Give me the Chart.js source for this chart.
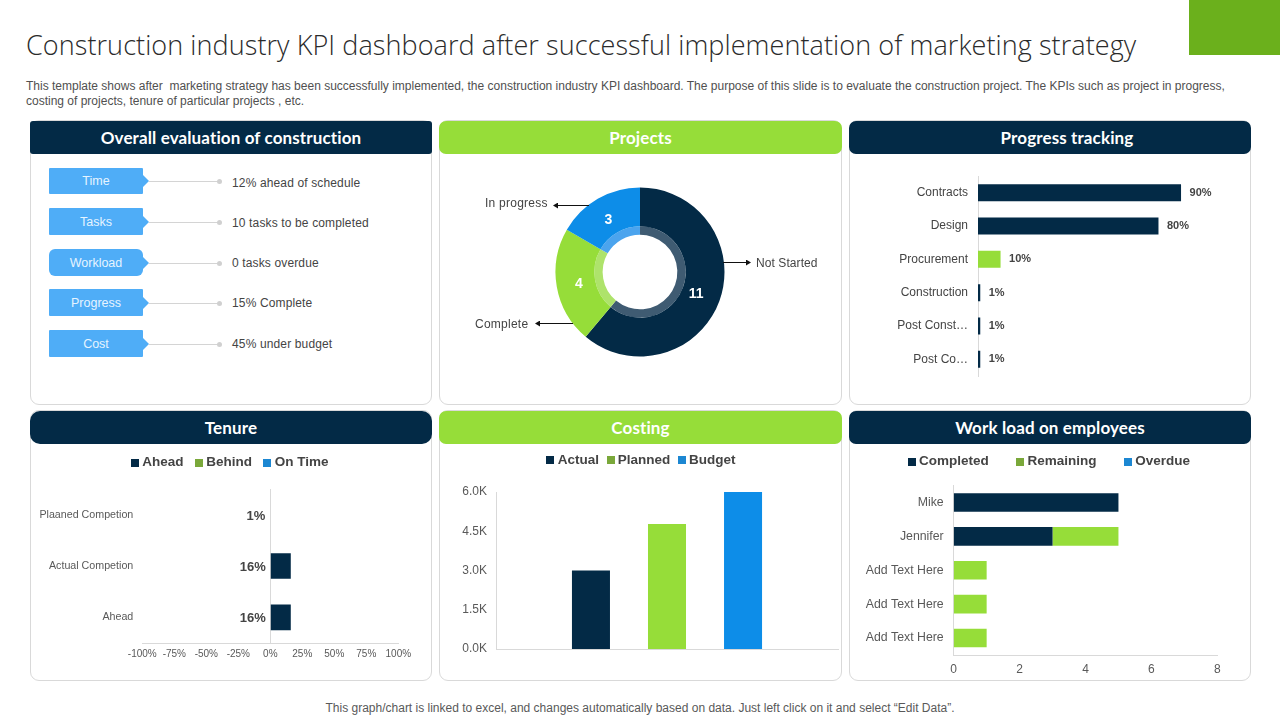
<!DOCTYPE html>
<html>
<head>
<meta charset="utf-8">
<title>Construction industry KPI dashboard</title>
<script src="https://cdn.jsdelivr.net/npm/chart.js@4"></script>
<style>
  html, body { margin: 0; padding: 0; background: #fff; }
  body { width: 1280px; height: 720px; position: relative; overflow: hidden; font-family: "Liberation Sans", Arial, sans-serif; color: #444; }
  .abs { position: absolute; white-space: nowrap; }
  #corner { left: 1189px; top: 0; width: 91px; height: 55px; background: #6bb01c; }
  #title { left: 26px; top: 26px; font: 300 27px/38px "Open Sans", sans-serif; color: #2b2b2b; letter-spacing: 0.08px; }
  #desc { left: 26px; top: 79px; font-size: 12px; line-height: 14.5px; color: #505050; }
  #foot { left: 0; width: 1280px; top: 701px; text-align: center; font-size: 12px; color: #595959; }
  .panel { position: absolute; box-sizing: border-box; border: 1px solid #d9d9d9; border-radius: 9px; background: #fff; }
  .head { position: absolute; text-align: center; color: #fff; font: 700 17px/33px Lato, sans-serif; letter-spacing: 0.12px; }
  canvas { position: absolute; z-index: 2; }
  .tag { position: absolute; left: 49px; width: 94px; background: #4fadf7; color: #e6f4ff; text-align: center; font-size: 12.5px; }
  .tag i { position: absolute; left: 94px; top: 50%; margin-top: -6px; border-left: 6px solid #4fadf7; border-top: 6px solid transparent; border-bottom: 6px solid transparent; }
  .rule { position: absolute; left: 149px; width: 70px; height: 1px; background: #d4d4d4; }
  .dot { position: absolute; left: 217px; width: 5px; height: 5px; border-radius: 50%; background: #d0d0d0; }
  .txt { position: absolute; left: 232px; font-size: 12px; color: #444; white-space: nowrap; letter-spacing: 0.14px; }
  .call { position: absolute; font-size: 12px; color: #444; white-space: nowrap; z-index: 3; letter-spacing: 0.25px; }
  svg { position: absolute; left: 0; top: 0; z-index: 3; }
</style>
</head>
<body>
<div class="abs" id="corner"></div>
<div class="abs" id="title">Construction industry KPI dashboard after successful implementation of marketing strategy</div>
<div class="abs" id="desc">This template shows after &nbsp;marketing strategy has been successfully implemented, the construction industry KPI dashboard. The purpose of this slide is to evaluate the construction project. The KPIs such as project in progress,<br>costing of projects, tenure of particular projects , etc.</div>
<div class="abs" id="foot">This graph/chart is linked to excel, and changes automatically based on data. Just left click on it and select “Edit Data”.</div>

<div class="call" style="left:485px;top:196px">In progress</div>
<div class="call" style="left:756px;top:256px;letter-spacing:0.08px">Not Started</div>
<div class="call" style="left:475px;top:317px">Complete</div>
<svg width="1280" height="720">
  <defs><marker id="tip" markerWidth="5" markerHeight="6" refX="4" refY="3" orient="auto"><path d="M0,0 L5,3 L0,6 z" fill="#111"/></marker></defs>
  <g stroke="#111" stroke-width="1">
    <line x1="589" y1="205.5" x2="554" y2="205.5" marker-end="url(#tip)"/>
    <line x1="723" y1="262.5" x2="750" y2="262.5" marker-end="url(#tip)"/>
    <line x1="573" y1="323.5" x2="536" y2="323.5" marker-end="url(#tip)"/>
  </g>
</svg>

<script>
// overall evaluation list
const evalTags = ['Time', 'Tasks', 'Workload', 'Progress', 'Cost'];
const evalNotes = ['12% ahead of schedule', '10 tasks to be completed', '0 tasks overdue', '15% Complete', '45% under budget'];

// projects donut
const projectNames = ['Not Started', 'Complete', 'In progress'];
const projectValues = [11, 4, 3];

// progress tracking
const progressNames = ['Contracts', 'Design', 'Procurement', 'Construction', 'Post Const…', 'Post Co…'];
const progressValues = [90, 80, 10, 1, 1, 1];

// tenure
const tenureNames = ['Plaaned Competion', 'Actual Competion', 'Ahead'];
const tenureAhead = [0, 16, 16];
const tenureBehind = [0, 0, 0];
const tenureOnTime = [0, 0, 0];
const tenureLabels = ['1%', '16%', '16%'];

// costing
const costNames = ['Cost'];
const costActual = [3000];
const costPlanned = [4780];
const costBudget = [6000];

// work load
const workNames = ['Mike', 'Jennifer', 'Add Text Here', 'Add Text Here', 'Add Text Here'];
const workCompleted = [5, 3, 0, 0, 0];
const workRemaining = [0, 2, 1, 1, 1];
const workOverdue = [0, 0, 0, 0, 0];

const NAVY = '#032a46', LIME = '#96dd39', BLUE = '#0d8de8';
const LEGEND_COLORS = [NAVY, '#7aa83a', '#1c87d2'];
const AXIS = '#d9d9d9', TICK = '#595959';

Chart.defaults.font.family = '"Liberation Sans", Arial, sans-serif';
Chart.defaults.animation = false;
Chart.defaults.responsive = false;
Chart.defaults.devicePixelRatio = 1;
Chart.defaults.plugins.tooltip.enabled = false;

// panels
function panel(x, y, w, h, head, color, radius, shift) {
  const p = document.createElement('div');
  p.className = 'panel';
  p.style.cssText = `left:${x}px;top:${y}px;width:${w}px;height:${h}px`;
  document.body.appendChild(p);
  const t = document.createElement('div');
  t.className = 'head';
  t.textContent = head;
  t.style.cssText = `left:${x + shift}px;top:${y + 1}px;width:${w - shift}px;height:33px;padding-left:${shift}px;margin-left:${-shift}px;background:${color};border-radius:${radius}px`;
  document.body.appendChild(t);
}
panel(30, 120, 402, 285, 'Overall evaluation of construction', NAVY, 3, 0);
panel(439, 120, 403, 285, 'Projects', LIME, 7, 0);
panel(849, 120, 402, 285, 'Progress tracking', NAVY, 7, 34);
panel(30, 410, 402, 271, 'Tenure', NAVY, 10, 0);
panel(439, 410, 403, 271, 'Costing', LIME, 7, 0);
panel(849, 410, 402, 271, 'Work load on employees', NAVY, 7, 0);

// evaluation rows
const rowTops = [168, 208, 249, 289, 330];
const rowHeights = [26, 27, 27, 27, 27];
const noteOffsets = [0, -1, -2, -2, -2];
evalTags.forEach((name, i) => {
  const mid = rowTops[i] + rowHeights[i] / 2;
  const tag = document.createElement('div');
  tag.className = 'tag';
  tag.innerHTML = name + '<i></i>';
  tag.style.cssText = `top:${rowTops[i]}px;height:${rowHeights[i]}px;line-height:${rowHeights[i] + 1}px;border-radius:${i === 2 ? 6 : 1}px`;
  document.body.appendChild(tag);
  const rule = document.createElement('div');
  rule.className = 'rule';
  rule.style.top = Math.round(mid) + 'px';
  document.body.appendChild(rule);
  const dot = document.createElement('div');
  dot.className = 'dot';
  dot.style.top = Math.round(mid - 2) + 'px';
  document.body.appendChild(dot);
  const note = document.createElement('div');
  note.className = 'txt';
  note.textContent = evalNotes[i];
  note.style.top = Math.round(mid - 5 + noteOffsets[i]) + 'px';
  document.body.appendChild(note);
});

function makeCanvas(x, y, w, h) {
  const c = document.createElement('canvas');
  c.width = w;
  c.height = h;
  c.style.cssText = `left:${x}px;top:${y}px;width:${w}px;height:${h}px`;
  document.body.appendChild(c);
  return c;
}

// text beside each bar or on each slice
const valueLabels = {
  id: 'valueLabels',
  afterDatasetsDraw(chart, args, opts) {
    if (!opts.texts) return;
    const { ctx } = chart;
    const meta = chart.getDatasetMeta(0);
    ctx.save();
    ctx.font = opts.font;
    ctx.fillStyle = opts.color;
    ctx.textBaseline = 'middle';
    ctx.textAlign = opts.align || 'left';
    meta.data.forEach((el, i) => {
      let p;
      if (opts.mode === 'slice') p = el.getCenterPoint();
      else if (opts.mode === 'base') p = { x: el.base, y: el.y };
      else p = { x: el.x, y: el.y };
      const nudge = opts.nudge ? opts.nudge[i] : [0, 0];
      ctx.fillText(opts.texts[i], p.x + (opts.dx || 0) + nudge[0], p.y + (opts.dy || 0) + nudge[1]);
    });
    ctx.restore();
  },
};
Chart.register(valueLabels);

// keeps the plot top at a set place whatever the legend measures, and nudges the legend
function pinLegend(height, dx, dy) {
  return {
    id: 'pinLegend',
    beforeInit(chart) {
      const legend = chart.legend;
      const fit = legend.fit;
      const draw = legend.draw;
      legend.fit = function () {
        fit.call(this);
        this.height = height;
      };
      legend.draw = function () {
        this.ctx.save();
        this.ctx.translate(dx, dy);
        draw.call(this);
        this.ctx.restore();
      };
    },
  };
}

// small square used as legend marker, sits closer to the text than a normal legend box
function legendSquare(color) {
  const c = document.createElement('canvas');
  c.width = 8;
  c.height = 8;
  const g = c.getContext('2d');
  g.fillStyle = color;
  g.fillRect(0, 0, 8, 8);
  return c;
}

function legendOptions(padding) {
  return {
    display: true,
    position: 'top',
    labels: {
      usePointStyle: true,
      pointStyleWidth: 1,
      boxHeight: 8,
      padding,
      color: '#444',
      font: { size: 13.5, weight: 'bold' },
      generateLabels(chart) {
        return Chart.defaults.plugins.legend.labels.generateLabels(chart).map((item, i) => ({
          ...item, pointStyle: legendSquare(LEGEND_COLORS[i]), lineWidth: 0,
        }));
      },
    },
  };
}

// Projects
new Chart(makeCanvas(440, 155, 400, 234), {
  type: 'doughnut',
  data: {
    labels: projectNames,
    datasets: [
      { data: projectValues, backgroundColor: [NAVY, LIME, BLUE], borderWidth: 0, weight: 38.8 },
      { data: projectValues, backgroundColor: ['#3f5b72', '#aee36b', '#4ba4ee'], borderWidth: 0, weight: 8.3 },
    ],
  },
  options: {
    radius: 84.5,
    cutout: '44.2%',
    plugins: {
      legend: { display: false },
      valueLabels: {
        texts: projectValues.map(String),
        mode: 'slice',
        font: 'bold 14px "Liberation Sans"',
        color: '#fff',
        align: 'center',
        nudge: [[-5, 0], [3, 1], [1, 5]],
      },
    },
  },
});

// Progress tracking
new Chart(makeCanvas(850, 155, 400, 248), {
  type: 'bar',
  data: {
    labels: progressNames,
    datasets: [{
      data: progressValues,
      backgroundColor: [NAVY, NAVY, LIME, NAVY, NAVY, NAVY],
      categoryPercentage: 1,
      barPercentage: 0.51,
    }],
  },
  options: {
    indexAxis: 'y',
    layout: { padding: { top: 21, bottom: 27, right: 46.4 } },
    scales: {
      x: { display: false, min: 0, max: 100 },
      y: {
        afterFit(s) { s.width = 128; },
        grid: { display: false, drawTicks: false },
        border: { color: AXIS },
        ticks: { autoSkip: false, padding: 10, color: '#444', font: { size: 12 } },
      },
    },
    plugins: {
      legend: { display: false },
      valueLabels: { texts: progressValues.map(v => v + '%'), font: 'bold 11px "Liberation Sans"', color: '#444', dx: 8.5, dy: 0 },
    },
  },
});

// Tenure
new Chart(makeCanvas(31, 442, 400, 238), {
  type: 'bar',
  data: {
    labels: tenureNames,
    datasets: [
      { label: 'Ahead', data: tenureAhead, backgroundColor: NAVY },
      { label: 'Behind', data: tenureBehind, backgroundColor: LIME },
      { label: 'On Time', data: tenureOnTime, backgroundColor: BLUE },
    ].map(d => ({ ...d, categoryPercentage: 1, barPercentage: 0.5 })),
  },
  options: {
    indexAxis: 'y',
    layout: { padding: { right: 32.7 } },
    scales: {
      x: {
        stacked: true,
        min: -100,
        max: 100,
        afterFit(s) { s.height = 37; },
        grid: { drawTicks: false, color: c => (c.tick && c.tick.value === 0 ? AXIS : 'transparent') },
        border: { color: AXIS },
        ticks: { stepSize: 25, autoSkip: false, maxRotation: 0, padding: 5, color: TICK, font: { size: 10 }, callback: v => v + '%' },
      },
      y: {
        stacked: true,
        afterFit(s) { s.width = 111.3; },
        grid: { display: false, drawTicks: false },
        border: { display: false },
        ticks: { autoSkip: false, padding: 9, color: TICK, font: { size: 10.7 } },
      },
    },
    plugins: {
      legend: legendOptions(15),
      valueLabels: { texts: tenureLabels, mode: 'base', font: 'bold 13px "Liberation Sans"', color: '#444', align: 'right', dx: -5, dy: 1.5 },
    },
  },
  plugins: [pinLegend(47, 16.8, -1)],
});

// Costing
new Chart(makeCanvas(440, 443, 401, 237), {
  type: 'bar',
  data: {
    labels: costNames,
    datasets: [
      { label: 'Actual', data: costActual, backgroundColor: NAVY },
      { label: 'Planned', data: costPlanned, backgroundColor: LIME },
      { label: 'Budget', data: costBudget, backgroundColor: BLUE },
    ].map(d => ({ ...d, categoryPercentage: 0.667, barPercentage: 0.5 })),
  },
  options: {
    layout: { padding: { right: 3 } },
    scales: {
      x: {
        afterFit(s) { s.height = 31; },
        grid: { display: false, drawTicks: false },
        border: { color: AXIS },
        ticks: { display: false },
      },
      y: {
        min: 0,
        max: 6000,
        afterFit(s) { s.width = 56; },
        grid: { display: false, drawTicks: false },
        border: { color: AXIS },
        ticks: { stepSize: 1500, padding: 9, color: TICK, font: { size: 12 }, callback: v => (v / 1000).toFixed(1) + 'K' },
      },
    },
    plugins: { legend: legendOptions(11) },
  },
  plugins: [pinLegend(49, 3.75, -0.5)],
});

// Work load
new Chart(makeCanvas(850, 428, 400, 252), {
  type: 'bar',
  data: {
    labels: workNames,
    datasets: [
      { label: 'Completed', data: workCompleted, backgroundColor: NAVY },
      { label: 'Remaining', data: workRemaining, backgroundColor: LIME },
      { label: 'Overdue', data: workOverdue, backgroundColor: BLUE },
    ].map(d => ({ ...d, categoryPercentage: 1, barPercentage: 0.55 })),
  },
  options: {
    indexAxis: 'y',
    layout: { padding: { right: 32.7 } },
    scales: {
      x: {
        stacked: true,
        min: 0,
        max: 8,
        afterFit(s) { s.height = 25; },
        grid: { display: false, drawTicks: false },
        border: { color: AXIS },
        ticks: { stepSize: 2, padding: 7.3, color: TICK, font: { size: 12 } },
      },
      y: {
        stacked: true,
        afterFit(s) { s.width = 103.7; },
        grid: { display: false, drawTicks: false },
        border: { color: AXIS },
        ticks: { autoSkip: false, padding: 10, color: TICK, font: { size: 12.3 } },
      },
    },
    plugins: { legend: legendOptions(31) },
  },
  plugins: [pinLegend(57.5, 17, -4)],
});
</script>
</body>
</html>
